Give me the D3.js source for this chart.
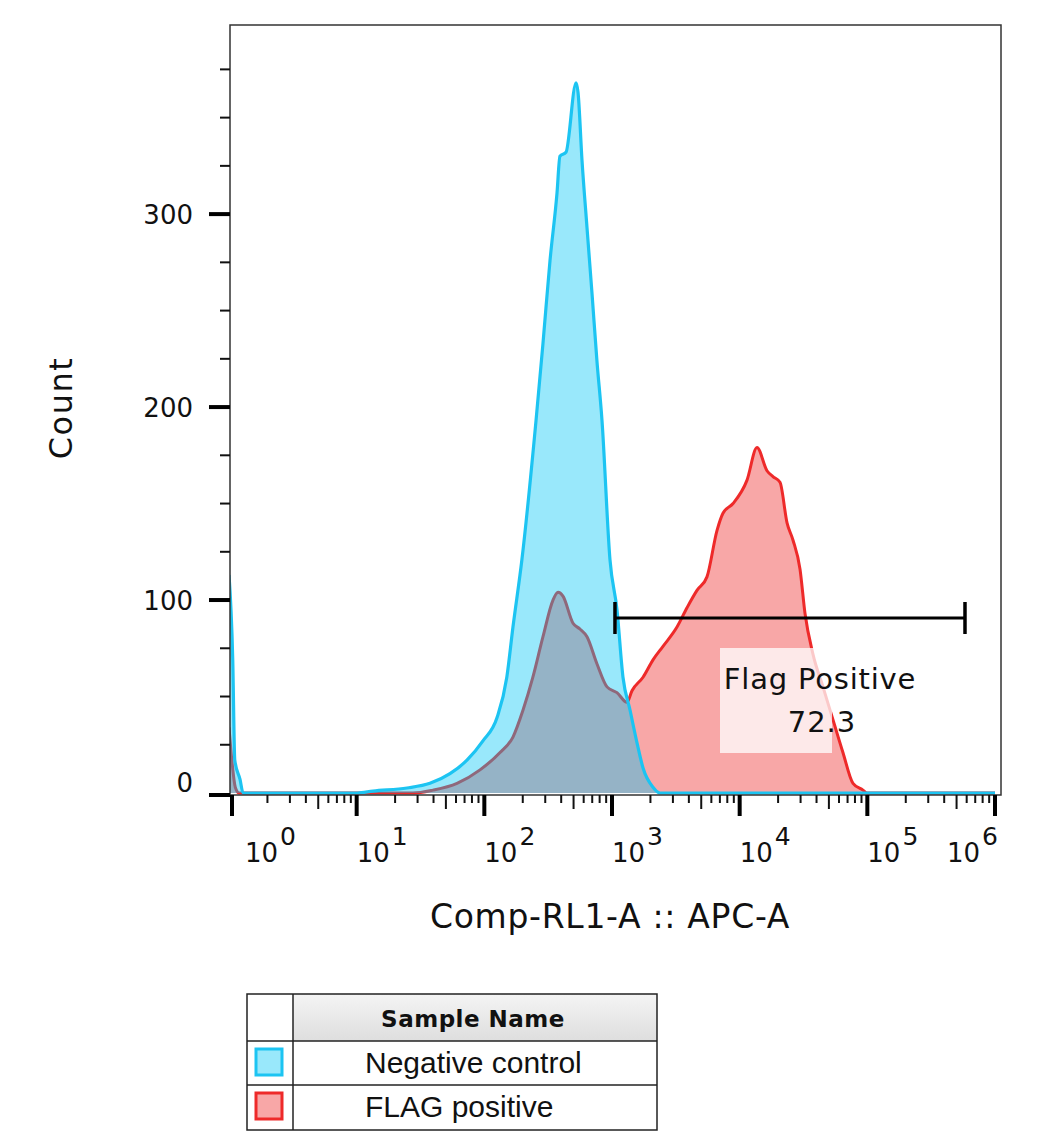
<!DOCTYPE html>
<html>
<head>
<meta charset="utf-8">
<style>
  body { margin: 0; background: #fff; }
  svg { display: block; }
</style>
</head>
<body>
<svg id="draw" width="1040" height="1148"></svg>

<script src="https://cdn.jsdelivr.net/npm/d3@7/dist/d3.min.js"></script>
<script>
    // histogram of Comp-RL1-A :: APC-A
    var negX = [1.0, 1.07, 1.11, 1.22, 1.29, 10.1, 13.4, 24.8, 37.5, 53.8, 73.1, 97.5, 125.6, 150, 167.6,
                197, 254, 288, 327, 371, 391, 436, 523, 542, 582, 637, 697, 762, 835, 964, 1094, 1219,
                1384, 1570, 1750, 2095, 2376, 1e6];
    var negCount = [113, 69, 17, 7, 0, 0, 1, 2.6, 5, 10, 17, 27, 39, 60, 86,
                    121, 193, 233, 276, 311, 330, 332, 368, 363, 328, 293, 259, 224, 193, 121, 95, 60,
                    43, 26, 13, 3, 0, 0];

    var flagX = [1.0, 1.06, 1.12, 1.2, 27.6, 39.6, 61.1, 92.5, 132.7, 167.6, 201, 240, 288, 345,
                 378, 413, 495, 561, 637, 762, 914, 1094, 1310, 1434, 1750, 2095, 2508, 3228, 3867, 4630,
                 5545, 6640, 7400, 8870, 11400, 13670, 16370, 18240, 20700, 23500, 26180, 29700, 32500,
                 37500, 44950, 53800, 64400, 77200, 92500, 99400, 1e6];
    var flagCount = [34, 15, 3, 0, 0, 1.5, 5, 12, 21, 29, 43, 60, 81, 100,
                     104, 102, 88, 85, 81, 67, 55, 52, 47, 53, 60, 69, 76, 86, 96, 105,
                     112, 136, 145, 150, 162, 179, 167, 164, 161, 140, 131, 116, 93,
                     72, 55, 38, 21, 5, 1.5, 0, 0];

    var decades = [0, 1, 2, 3, 4, 5, 6];
    var yMajor = [0, 100, 200, 300];
    var yMinor = [25, 50, 75, 125, 150, 175, 225, 250, 275, 325, 350, 375];

    var gateRange = [1055, 582000];
    var gateLevel = 90.7;
    var gateName = "Flag Positive";
    var gateValue = "72.3";

    var sampleNames = ["Negative control", "FLAG positive"];
    var legendHeader = "Sample Name";
    var xTitle = "Comp-RL1-A :: APC-A";
    var yTitle = "Count";

    var cyanLine = "#1cc4f2", cyanFill = "#00c6f5";
    var redLine = "#ee2a2a", redFill = "#f03c3c";

    var pLeft = 230, pRight = 1001, pTop = 25, pBottom = 795;

    var x = d3.scaleLog().domain([1, 1e6]).range([229, 995]);
    var y = d3.scaleLinear().domain([0, 398]).range([793, pTop]);

    const svg = d3.select("svg#draw");

    svg.append("defs").append("clipPath").attr("id", "plotclip")
        .append("rect").attr("x", pLeft).attr("y", pTop)
        .attr("width", pRight - pLeft).attr("height", pBottom - pTop);

    var area = d3.area().curve(d3.curveMonotoneX).x(d => x(d[0])).y0(y(0)).y1(d => y(d[1]));
    var line = d3.line().curve(d3.curveMonotoneX).x(d => x(d[0])).y(d => y(d[1]));

    var neg = d3.zip(negX, negCount);
    var flag = d3.zip(flagX, flagCount);

    var plot = svg.append("g").attr("clip-path", "url(#plotclip)");

    // red first, the cyan fill sits over it
    plot.append("path").datum(flag).attr("d", area)
        .attr("fill", redFill).attr("fill-opacity", 0.45);
    plot.append("path").datum(flag).attr("d", line)
        .attr("fill", "none").attr("stroke", redLine).attr("stroke-width", 3)
        .attr("stroke-linejoin", "round");
    plot.append("path").datum(neg).attr("d", area)
        .attr("fill", cyanFill).attr("fill-opacity", 0.4);
    plot.append("path").datum(neg).attr("d", line)
        .attr("fill", "none").attr("stroke", cyanLine).attr("stroke-width", 3.2)
        .attr("stroke-linejoin", "round");

    // frame
    svg.append("rect").attr("x", pLeft).attr("y", pTop)
        .attr("width", pRight - pLeft).attr("height", pBottom - pTop)
        .attr("fill", "none").attr("stroke", "#333").attr("stroke-width", 1.5);

    // y ticks
    svg.selectAll(".ymaj").data(yMajor).enter().append("line")
        .attr("x1", pLeft - 21).attr("x2", pLeft)
        .attr("y1", d => d == 0 ? pBottom : y(d)).attr("y2", d => d == 0 ? pBottom : y(d))
        .attr("stroke", "#000").attr("stroke-width", 4);
    svg.selectAll(".ymin").data(yMinor).enter().append("line")
        .attr("x1", pLeft - 10).attr("x2", pLeft)
        .attr("y1", d => y(d)).attr("y2", d => y(d))
        .attr("stroke", "#111").attr("stroke-width", 2);
    svg.selectAll(".ylab").data(yMajor).enter().append("text")
        .attr("x", 193)
        .attr("y", d => d == 0 ? y(d) - 1 : y(d) + 10)
        .attr("text-anchor", "end")
        .attr("font-family", "DejaVu Sans")
        .attr("font-size", 26)
        .attr("fill", "#111")
        .text(d => d);

    // x ticks
    var xMinor = [];
    decades.slice(0, -1).forEach(k => {
        for (var m = 2; m <= 9; m++) xMinor.push(m * Math.pow(10, k));
    });
    var tickX = v => Math.max(x(v), pLeft + 2);
    svg.selectAll(".xmaj").data(decades).enter().append("line")
        .attr("x1", d => tickX(Math.pow(10, d))).attr("x2", d => tickX(Math.pow(10, d)))
        .attr("y1", pBottom).attr("y2", pBottom + 21)
        .attr("stroke", "#000").attr("stroke-width", 4);
    svg.selectAll(".xmin").data(xMinor).enter().append("line")
        .attr("x1", d => x(d)).attr("x2", d => x(d))
        .attr("y1", pBottom)
        .attr("y2", d => String(d)[0] == "5" ? pBottom + 14 : pBottom + 8)
        .attr("stroke", "#111").attr("stroke-width", 2);

    var xl = svg.selectAll(".xlab").data(decades).enter().append("text")
        .attr("x", d => d == 0 ? pLeft + 15 : (d == 6 ? pRight - 3 : x(Math.pow(10, d))))
        .attr("y", 862)
        .attr("text-anchor", d => d == 6 ? "end" : "start")
        .attr("font-family", "DejaVu Sans")
        .attr("font-size", 26)
        .attr("fill", "#111");
    xl.append("tspan").text("10");
    xl.append("tspan").attr("dy", -17).attr("dx", 2).attr("font-size", 25).text(d => d);

    // axis titles
    svg.append("text")
        .attr("transform", "translate(72,408) rotate(-90)")
        .attr("text-anchor", "middle")
        .attr("font-family", "DejaVu Sans")
        .attr("font-size", 32)
        .attr("letter-spacing", 1.5)
        .attr("fill", "#111")
        .text(yTitle);
    svg.append("text")
        .attr("x", 610).attr("y", 928)
        .attr("text-anchor", "middle")
        .attr("font-family", "DejaVu Sans")
        .attr("font-size", 33)
        .attr("letter-spacing", 0.7)
        .attr("fill", "#111")
        .text(xTitle);

    // gate
    var gx0 = x(gateRange[0]), gx1 = x(gateRange[1]), gy = y(gateLevel);
    svg.append("line").attr("x1", gx0).attr("x2", gx1).attr("y1", gy).attr("y2", gy)
        .attr("stroke", "#000").attr("stroke-width", 3);
    svg.selectAll(".cap").data(gateRange).enter().append("line")
        .attr("x1", d => x(d)).attr("x2", d => x(d))
        .attr("y1", gy - 16).attr("y2", gy + 16)
        .attr("stroke", "#000").attr("stroke-width", 3.5);

    svg.append("rect").attr("x", 720).attr("y", 648).attr("width", 112).attr("height", 105)
        .attr("fill", "#fff").attr("fill-opacity", 0.75);
    svg.append("text")
        .attr("x", 820).attr("y", 689)
        .attr("text-anchor", "middle")
        .attr("font-family", "DejaVu Sans")
        .attr("font-size", 29)
        .attr("letter-spacing", 0.8)
        .attr("fill", "#111")
        .text(gateName);
    svg.append("text")
        .attr("x", 822).attr("y", 732)
        .attr("text-anchor", "middle")
        .attr("font-family", "DejaVu Sans")
        .attr("font-size", 29)
        .attr("letter-spacing", 1)
        .attr("fill", "#111")
        .text(gateValue);

    // legend table
    var tl = 247, tr = 657, tc = 293;
    var rows = [994, 1041, 1085, 1130];
    var grad = svg.select("defs").append("linearGradient").attr("id", "hdr")
        .attr("x1", 0).attr("y1", 0).attr("x2", 0).attr("y2", 1);
    grad.append("stop").attr("offset", 0).attr("stop-color", "#f4f4f4");
    grad.append("stop").attr("offset", 1).attr("stop-color", "#dedede");
    svg.append("rect").attr("x", tc).attr("y", rows[0])
        .attr("width", tr - tc).attr("height", rows[1] - rows[0])
        .attr("fill", "url(#hdr)");
    svg.append("rect").attr("x", tl).attr("y", rows[0])
        .attr("width", tr - tl).attr("height", rows[3] - rows[0])
        .attr("fill", "none").attr("stroke", "#222").attr("stroke-width", 1.5);
    svg.selectAll(".rowline").data(rows.slice(1, 3)).enter().append("line")
        .attr("x1", tl).attr("x2", tr).attr("y1", d => d).attr("y2", d => d)
        .attr("stroke", "#222").attr("stroke-width", 1.5);
    svg.append("line").attr("x1", tc).attr("x2", tc).attr("y1", rows[0]).attr("y2", rows[3])
        .attr("stroke", "#222").attr("stroke-width", 1.5);
    svg.append("text")
        .attr("x", (tc + tr) / 2 - 2).attr("y", 1027)
        .attr("text-anchor", "middle")
        .attr("font-family", "DejaVu Sans")
        .attr("font-weight", "bold")
        .attr("font-size", 23)
        .attr("letter-spacing", 0.5)
        .attr("fill", "#111")
        .text(legendHeader);

    var swatch = [[cyanLine, cyanFill, 0.4], [redLine, redFill, 0.45]];
    sampleNames.forEach((name, i) => {
        var ry = rows[i + 1];
        svg.append("rect").attr("x", 256).attr("y", ry + 8).attr("width", 26).attr("height", 26)
            .attr("fill", swatch[i][1]).attr("fill-opacity", swatch[i][2])
            .attr("stroke", swatch[i][0]).attr("stroke-width", 3);
        svg.append("text")
            .attr("x", 365).attr("y", ry + 32)
            .attr("font-family", "Liberation Sans")
            .attr("font-size", 30)
            .attr("fill", "#111")
            .text(name);
    });
</script>
</body>
</html>
